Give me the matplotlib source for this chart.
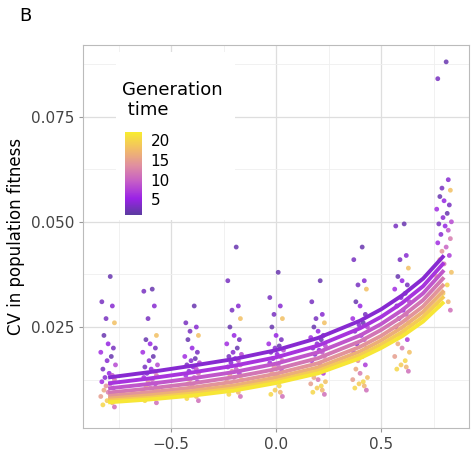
import numpy as np
import matplotlib.pyplot as plt
from matplotlib.colors import LinearSegmentedColormap, Normalize

# groupes en x
x_groups = [-0.8, -0.6, -0.4, -0.2, 0.0, 0.2, 0.4, 0.6, 0.8]

# petit décalage (jitter) lu à l'oeil
jitter = [0.01, -0.03, 0.02, -0.01, 0.03, -0.02, 0.0, 0.025, -0.035, 0.015,
          -0.005, 0.035, -0.025, 0.005, 0.02, -0.015, 0.03, -0.03, 0.01, -0.01,
          0.025, -0.02, 0.0, 0.035, -0.035, 0.015, -0.005, 0.02, -0.025, 0.03]

gen = [2, 3, 4, 3, 18, 2, 5, 3, 6, 2, 4, 8, 3, 5, 9, 4, 12, 6, 10, 14,
       7, 16, 12, 18, 15, 20, 19, 17, 20, 11]

y_m08 = [0.037, 0.031, 0.030, 0.027, 0.026, 0.023, 0.021, 0.020, 0.019, 0.018, 0.017, 0.016, 0.015, 0.014, 0.0135,
         0.013, 0.0125, 0.012, 0.0115, 0.011, 0.0105, 0.010, 0.0095, 0.009, 0.0085, 0.008, 0.0075, 0.007, 0.0065, 0.006]
y_m06 = [0.034, 0.0335, 0.030, 0.027, 0.023, 0.022, 0.021, 0.020, 0.019, 0.018, 0.017, 0.016, 0.0155, 0.015, 0.0145,
         0.014, 0.0135, 0.013, 0.0125, 0.012, 0.0115, 0.011, 0.0105, 0.010, 0.0095, 0.009, 0.0085, 0.008, 0.0075, 0.007]
y_m04 = [0.030, 0.026, 0.025, 0.024, 0.023, 0.022, 0.020, 0.019, 0.018, 0.0175, 0.017, 0.0165, 0.016, 0.0155, 0.015,
         0.0145, 0.014, 0.0135, 0.013, 0.0125, 0.012, 0.0115, 0.011, 0.0105, 0.010, 0.0095, 0.009, 0.0085, 0.008, 0.0075]
y_m02 = [0.044, 0.036, 0.030, 0.029, 0.027, 0.025, 0.023, 0.022, 0.021, 0.020, 0.019, 0.0185, 0.018, 0.0175, 0.017,
         0.0165, 0.016, 0.0155, 0.015, 0.0145, 0.014, 0.0135, 0.013, 0.0125, 0.012, 0.011, 0.010, 0.0095, 0.009, 0.0085]
y_00 = [0.038, 0.032, 0.030, 0.028, 0.027, 0.025, 0.023, 0.022, 0.021, 0.0205, 0.020, 0.0195, 0.019, 0.0185, 0.018,
        0.0175, 0.017, 0.0165, 0.016, 0.0155, 0.015, 0.014, 0.0135, 0.013, 0.012, 0.011, 0.010, 0.0095, 0.009, 0.0085]
y_02 = [0.036, 0.031, 0.028, 0.027, 0.026, 0.025, 0.024, 0.023, 0.0225, 0.022, 0.021, 0.0205, 0.020, 0.0195, 0.019,
        0.0185, 0.018, 0.017, 0.016, 0.015, 0.014, 0.013, 0.0125, 0.012, 0.0115, 0.011, 0.0105, 0.010, 0.0095, 0.009]
y_04 = [0.044, 0.041, 0.036, 0.035, 0.034, 0.031, 0.030, 0.028, 0.027, 0.026, 0.0255, 0.025, 0.024, 0.023, 0.022,
        0.021, 0.020, 0.019, 0.018, 0.017, 0.016, 0.015, 0.014, 0.013, 0.0125, 0.012, 0.0115, 0.011, 0.0105, 0.010]
y_06 = [0.0495, 0.049, 0.042, 0.041, 0.039, 0.037, 0.036, 0.035, 0.034, 0.033, 0.032, 0.031, 0.030, 0.029, 0.028,
        0.027, 0.026, 0.025, 0.024, 0.023, 0.022, 0.021, 0.020, 0.019, 0.018, 0.017, 0.016, 0.0155, 0.015, 0.0145]
y_08 = [0.088, 0.084, 0.060, 0.058, 0.0575, 0.056, 0.055, 0.054, 0.053, 0.052, 0.051, 0.050, 0.0495, 0.049, 0.048,
        0.047, 0.046, 0.045, 0.044, 0.043, 0.042, 0.041, 0.040, 0.038, 0.037, 0.035, 0.033, 0.031, 0.030, 0.029]
y_points = [y_m08, y_m06, y_m04, y_m02, y_00, y_02, y_04, y_06, y_08]

# courbes ajustées, une par temps de génération
x_fit = [-0.8, -0.6, -0.4, -0.2, 0.0, 0.2, 0.4, 0.5, 0.6, 0.7, 0.8]
gen_fit = [4, 6.5, 9, 11.5, 14, 16.5, 19, 21.5]
fit_a = [0.0130, 0.0143, 0.0158, 0.0174, 0.0195, 0.0224, 0.0265, 0.0292, 0.0325, 0.0365, 0.0420]
fit_b = [0.0116, 0.0128, 0.0142, 0.0158, 0.0178, 0.0206, 0.0247, 0.0274, 0.0307, 0.0347, 0.0403]
fit_c = [0.0104, 0.0115, 0.0128, 0.0143, 0.0163, 0.0190, 0.0230, 0.0257, 0.0290, 0.0330, 0.0385]
fit_d = [0.0094, 0.0104, 0.0116, 0.0131, 0.0150, 0.0176, 0.0216, 0.0243, 0.0275, 0.0314, 0.0368]
fit_e = [0.0086, 0.0095, 0.0106, 0.0120, 0.0139, 0.0164, 0.0203, 0.0229, 0.0261, 0.0299, 0.0352]
fit_f = [0.0080, 0.0088, 0.0098, 0.0111, 0.0130, 0.0154, 0.0192, 0.0218, 0.0249, 0.0286, 0.0337]
fit_g = [0.0075, 0.0082, 0.0092, 0.0104, 0.0122, 0.0146, 0.0183, 0.0208, 0.0238, 0.0274, 0.0323]
fit_h = [0.0071, 0.0078, 0.0087, 0.0099, 0.0117, 0.0140, 0.0176, 0.0200, 0.0228, 0.0263, 0.0310]
fits = [fit_a, fit_b, fit_c, fit_d, fit_e, fit_f, fit_g, fit_h]

cmap = LinearSegmentedColormap.from_list(
    "gen", ["#5a3c9e", "#9a22e6", "#c45cc8", "#e08fa0", "#f2bd66", "#f8ec30"])
norm = Normalize(vmin=1, vmax=22)

fig = plt.figure(figsize=(4.74, 4.74), dpi=100)
ax = fig.add_axes([0.175, 0.097, 0.815, 0.808])

for xg, ys in zip(x_groups, y_points):
    xs = np.array(jitter[:len(ys)]) + xg
    ax.scatter(xs, ys, c=gen[:len(ys)], cmap=cmap, norm=norm, s=12,
               alpha=0.85, linewidths=0, zorder=2)

for g, f in zip(gen_fit, fits):
    ax.plot(x_fit, f, color=cmap(norm(g)), lw=2.8, zorder=3, solid_capstyle="butt")

ax.set_xlim(-0.92, 0.92)
ax.set_ylim(0.001, 0.092)
ax.set_xticks([-0.5, 0.0, 0.5])
ax.set_xticks([-0.75, -0.25, 0.25, 0.75], minor=True)
ax.set_yticks([0.025, 0.050, 0.075])
ax.set_yticks([0.0125, 0.0375, 0.0625, 0.0875], minor=True)
ax.set_yticklabels(["0.025", "0.050", "0.075"])
ax.grid(True, which="major", color="#dedede", lw=0.9)
ax.grid(True, which="minor", color="#efefef", lw=0.6)
ax.set_axisbelow(True)
ax.tick_params(which="both", length=3, color="#999999", labelsize=11, labelcolor="#444444")
ax.tick_params(which="minor", length=0)
for s in ax.spines.values():
    s.set_color("#bbbbbb")
ax.set_ylabel("CV in population fitness", fontsize=12)
fig.text(0.04, 0.955, "B", fontsize=13)

# légende (barre de couleurs) sur fond blanc
bg = fig.add_axes([0.245, 0.535, 0.25, 0.355])
bg.set_facecolor("white")
bg.set_xticks([])
bg.set_yticks([])
for s in bg.spines.values():
    s.set_visible(False)
bg.text(0.05, 0.6, "Generation\n time", fontsize=13, va="bottom", ha="left",
        transform=bg.transAxes)
cax = fig.add_axes([0.264, 0.546, 0.036, 0.175])
cb = fig.colorbar(plt.cm.ScalarMappable(norm=norm, cmap=cmap), cax=cax)
cb.set_ticks([5, 10, 15, 20])
cb.outline.set_visible(False)
cax.tick_params(length=0, labelsize=11, pad=6)

fig.savefig("out.png", dpi=100)
